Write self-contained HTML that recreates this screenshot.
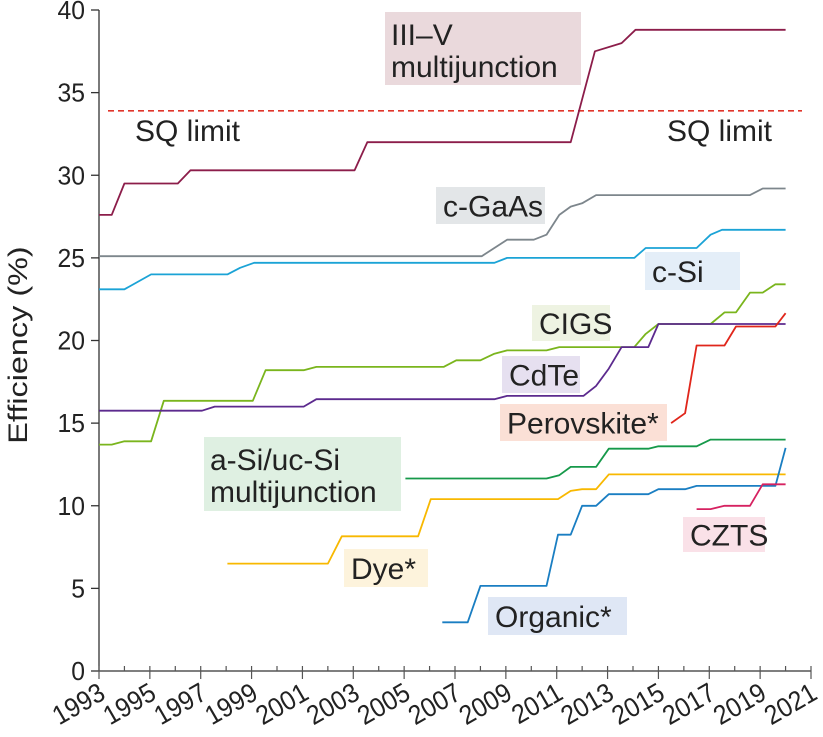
<!DOCTYPE html>
<html><head><meta charset="utf-8"><style>
body{margin:0;background:#fff;}
svg{display:block;font-family:"Liberation Sans",sans-serif;}
</style></head><body>
<svg id="chart" width="823" height="737" viewBox="0 0 823 737"></svg>
<script>
const yearTicks=[1993,1995,1997,1999,2001,2003,2005,2007,2009,2011,2013,2015,2017,2019,2021];
const yTicks=[0,5,10,15,20,25,30,35,40];
const sqLimit=33.9;
const iiivYears=[1993,1993.5,1994,1996.1,1996.6,2003.05,2003.55,2011.55,2012.5,2013.55,2014.1,2020];
const iiivVals=[27.6,27.6,29.5,29.5,30.3,30.3,32.0,32.0,37.5,38.0,38.8,38.8];
const gaasYears=[1993,2008.05,2009.05,2010.1,2010.6,2011.1,2011.55,2012.0,2012.55,2018.6,2019.1,2020];
const gaasVals=[25.1,25.1,26.1,26.1,26.4,27.6,28.1,28.3,28.8,28.8,29.2,29.2];
const csiYears=[1993,1994,1995.05,1998.05,1998.55,1999.1,2008.55,2009.05,2014.05,2014.5,2016.5,2017.05,2017.5,2020];
const csiVals=[23.1,23.1,24.0,24.0,24.4,24.7,24.7,25.0,25.0,25.6,25.6,26.4,26.7,26.7];
const cigsYears=[1993,1993.5,1994,1995.05,1995.55,1999.05,1999.55,2001.05,2001.55,2006.55,2007.05,2008.0,2008.55,2009.05,2010.6,2011.1,2014.05,2014.5,2015.0,2017.05,2017.6,2018.05,2018.6,2019.1,2019.6,2020];
const cigsVals=[13.7,13.7,13.9,13.9,16.35,16.35,18.2,18.2,18.4,18.4,18.8,18.8,19.2,19.4,19.4,19.6,19.6,20.4,21.0,21.0,21.7,21.7,22.9,22.9,23.4,23.4];
const cdteYears=[1993,1997.05,1997.55,2001.05,2001.55,2008.55,2009.05,2012.05,2012.55,2013.05,2013.55,2014.6,2015.0,2020];
const cdteVals=[15.75,15.75,16.0,16.0,16.45,16.45,16.65,16.65,17.25,18.3,19.6,19.6,21.0,21.0];
const perovYears=[2015.5,2016.05,2016.5,2017.6,2018.05,2019.6,2020];
const perovVals=[15.0,15.6,19.7,19.7,20.85,20.85,21.65];
const asiYears=[2005.05,2010.6,2011.1,2011.55,2012.55,2013.05,2014.6,2015.0,2016.5,2017.05,2020];
const asiVals=[11.65,11.65,11.85,12.35,12.35,13.45,13.45,13.6,13.6,14.0,14.0];
const dyeYears=[1998.05,2002.0,2002.55,2005.55,2006.05,2011.05,2011.55,2012.0,2012.55,2013.05,2020];
const dyeVals=[6.5,6.5,8.15,8.15,10.4,10.4,10.9,11.0,11.0,11.9,11.9];
const orgYears=[2006.5,2007.5,2008.0,2010.6,2011.05,2011.55,2012.0,2012.55,2013.05,2014.6,2015.0,2016.05,2016.5,2019.6,2020];
const orgVals=[2.95,2.95,5.15,5.15,8.25,8.25,10.0,10.0,10.7,10.7,11.0,11.0,11.2,11.2,13.5];
const cztsYears=[2016.5,2017.05,2017.6,2018.6,2019.1,2020];
const cztsVals=[9.8,9.8,10.0,10.0,11.3,11.3];

const NS="http://www.w3.org/2000/svg";
const svg=document.getElementById('chart');
const X0=99,X1=811,Y0=671,Y1=10;
const xs=y=>X0+(y-1993)/(2021-1993)*(X1-X0);
const ys=v=>Y0-v/40*(Y0-Y1);
function mk(tag,attrs,parent){const e=document.createElementNS(NS,tag);for(const k in attrs)e.setAttribute(k,attrs[k]);(parent||svg).appendChild(e);return e;}
function ctext(str,x,y,size,anchor,parent,extra,sx){
  const t=mk('text',{x:0,y:0,'font-size':size,fill:'#222','text-anchor':anchor||'start',transform:`translate(${x} ${y}) ${extra||''} scale(${sx||1} 1)`},parent);
  t.textContent=str;return t;
}

const axes=mk('g',{});


const yl=mk('line',{x1:X0,y1:Y1,x2:X0,y2:Y0,stroke:'#333','stroke-width':1.3},axes);


const xl=mk('line',{x1:X0,y1:Y0,x2:X1,y2:Y0,stroke:'#555','stroke-width':1.5},axes);


yTicks.forEach(v=>{
  const t=mk('line',{x1:X0-8,x2:X0,y1:ys(v),y2:ys(v),stroke:'#333','stroke-width':1.3},axes);
  
  
  const l=ctext(String(v),X0-14,ys(v)+9,26,'end',axes,'',0.95);
  
  
});
for(let yr=1993;yr<=2021;yr++){
  const major=(yr%2===1);
  const t=mk('line',{x1:xs(yr),x2:xs(yr),y1:Y0-5,y2:major?Y0+8:Y0,stroke:'#555','stroke-width':1.2},axes);
  
  
}
yearTicks.forEach(yr=>{
  const l=ctext(String(yr),xs(yr)+8,Y0+27,27,'end',axes,'rotate(-30)',0.92);
  
  
});
const yt=ctext('Efficiency (%)',27,345,27,'middle',axes,'rotate(-90)',1.2);



function label(lines,x,y,w,h,fill,name){
  const g=mk('g',{});
  
  
  mk('rect',{x:x,y:y,width:w,height:h,fill:fill},g);
  if(lines.length===1) ctext(lines[0],x+7,y+h/2+11,30,'start',g);
  else lines.forEach((s,i)=>{ctext(s,x+6,y+33+i*32,30,'start',g);});
}
label(['III–V','multijunction'],385,12,196,73,'#ead9dc','label-iii-v');
label(['c-GaAs'],436,187,109,37,'#e3e6e8','label-c-gaas');
label(['c-Si'],645,252,95,38,'#e4eef8','label-c-si');
label(['CIGS'],532,305,78,36,'#eef3e2','label-cigs');
label(['CdTe'],502,356,78,37,'#e6e0f0','label-cdte');
label(['Perovskite*'],500,404,167,37,'#fbe0d6','label-perovskite');
label(['a-Si/uc-Si','multijunction'],204,437,197,74,'#dff0e2','label-a-si');
label(['Dye*'],344,549,84,38,'#fdf3dc','label-dye');
label(['Organic*'],488,597,139,38,'#dfe7f5','label-organic');
label(['CZTS'],683,517,82,35,'#fae1e8','label-czts');

const sq=mk('line',{x1:108,x2:802,y1:ys(sqLimit),y2:ys(sqLimit),stroke:'#e0352b','stroke-width':1.6,'stroke-dasharray':'6 4'});


[[135,'sq-limit-label-left'],[667,'sq-limit-label-right']].forEach(([x,n])=>{
  const t=ctext('SQ limit',x,141,30,'start');
  
  
});

function series(xsArr,vals,color,name){
  const d=xsArr.map((yr,i)=>(i?'L':'M')+xs(yr).toFixed(1)+','+ys(vals[i]).toFixed(1)).join(' ');
  const p=mk('path',{d:d,fill:'none',stroke:color,'stroke-width':1.8,'stroke-linejoin':'round'});
  
  
}
series(iiivYears,iiivVals,'#8c1d4a','series-iii-v');
series(gaasYears,gaasVals,'#7d868c','series-c-gaas');
series(csiYears,csiVals,'#1ba3d6','series-c-si');
series(cigsYears,cigsVals,'#7ab51d','series-cigs');
series(cdteYears,cdteVals,'#5c2a8e','series-cdte');
series(perovYears,perovVals,'#e0261b','series-perovskite');
series(asiYears,asiVals,'#16994a','series-a-si');
series(dyeYears,dyeVals,'#f8b800','series-dye');
series(orgYears,orgVals,'#1a7ec2','series-organic');
series(cztsYears,cztsVals,'#d62261','series-czts');
</script>
</body></html>
